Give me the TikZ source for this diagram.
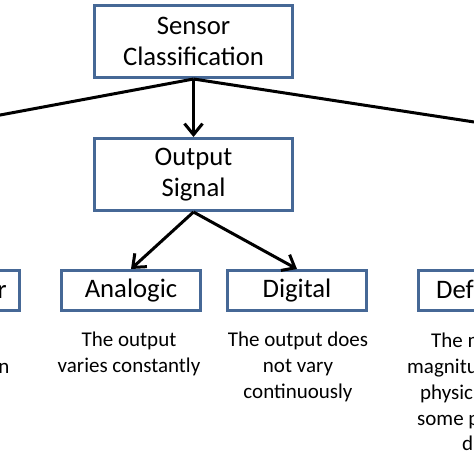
\documentclass[tikz,border=0pt]{standalone}
\usepackage{fontspec}
\setmainfont{Carlito}
\usetikzlibrary{arrows.meta}
\definecolor{boxblue}{RGB}{70,104,150}
\begin{document}
\begin{tikzpicture}[x=1pt,y=-1pt]

      \useasboundingbox (0,0) rectangle (474,474);
      \clip (0,0) rectangle (474,474);

      \begin{scope}[every node/.style={draw=boxblue, line width=3pt, fill=white, inner sep=0pt, align=center,
          font=\fontsize{26.7}{31}\selectfont}]
        \node[minimum width=198pt, minimum height=72pt] (sensor)     at (193.5,41.5)  {Sensor\\Classification};
        \node[minimum width=198pt, minimum height=72pt] (output)     at (193.5,174.5) {Output\\Signal};
        \node[minimum width=139pt, minimum height=40pt] (leftbox)    at (-50.3,290.5) {};
        \node[minimum width=139pt, minimum height=40pt] (analogic)   at (131,290.5)   {Analogic};
        \node[minimum width=139pt, minimum height=40pt] (digital)    at (297,290.5)   {Digital};
        \node[minimum width=139pt, minimum height=40pt] (deflection) at (488,290.5)   {};
      \end{scope}

      \coordinate (lftend) at (-10,116.9);
      \coordinate (rgtend) at (484,123.5);

      \begin{scope}[every node/.style={inner sep=0pt, font=\fontsize{26.7}{31}\selectfont}]
        \node[anchor=base east] (lefttext) at (7,298)   {r};
        \node[anchor=base west] (deftext)  at (436,298) {Def};
      \end{scope}

      \begin{scope}[every node/.style={inner sep=0pt, align=center, anchor=north, font=\fontsize{21}{26}\selectfont}]
        \node (analogicnote) at (129,332) {The output\\varies constantly};
        \node (digitalnote)  at (298,332) {The output does\\not vary\\continuously};
      \end{scope}

      \begin{scope}[every node/.style={inner sep=0pt, anchor=base west, font=\fontsize{21}{26}\selectfont}]
        \node[anchor=base east] (leftnote) at (9.5,373) {n};
        \node (defnote1) at (431,347) {The m};
        \node (defnote2) at (407,373) {magnitu};
        \node (defnote3) at (420,399) {physic};
        \node (defnote4) at (417,425) {some p};
        \node (defnote5) at (462,450) {d};
      \end{scope}

      \begin{scope}[every edge/.style={draw, line width=3pt}]
        \path (sensor.south) edge[-{Straight Barb[length=11pt,width=18pt]}] (output.north);
        \path (output.south) edge[-{Straight Barb[length=11pt,width=18pt]}] (analogic.north);
        \path (output.south) edge[-{Straight Barb[length=11pt,width=18pt]}] (digital.north);
        \path (sensor.south) edge (lftend);
        \path (sensor.south) edge (rgtend);
      \end{scope}

    \end{tikzpicture}
\end{document}
